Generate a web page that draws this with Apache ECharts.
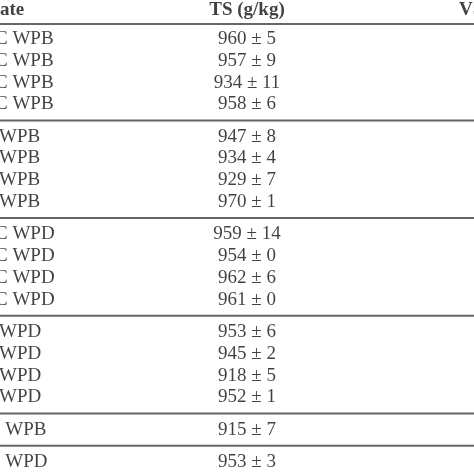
<!DOCTYPE html>
<html><head><meta charset="utf-8">
<script src="https://cdn.jsdelivr.net/npm/echarts@6/dist/echarts.min.js"></script>
<style>html,body{margin:0;padding:0;background:#fff}#c{width:474px;height:474px}</style>
</head><body><div id="c"></div>
<script>
const headers = ['ate', 'TS (g/kg)', 'VS'];
const rowLabels = ['C WPB','C WPB','C WPB','C WPB','WPB','WPB','WPB','WPB','C WPD','C WPD','C WPD','C WPD','WPD','WPD','WPD','WPD','1 WPB','1 WPD'];
const rowGroups = [0,0,0,0,1,1,1,1,2,2,2,2,3,3,3,3,4,5];
const tsMean = [960,957,934,958,947,934,929,970,959,954,962,961,953,945,918,952,915,953];
const tsSd =   [5,9,11,6,8,4,7,1,14,0,6,0,6,2,5,1,7,3];

const FONT = '"Liberation Serif", "DejaVu Serif", serif';
const rowY = i => 39 + i*21.8 + rowGroups[i]*10.5;
const labelOff = [-5,-1,-5,-1,-9,-9];
const lineYs = [24];
rowGroups.forEach((g,i)=>{ if(i<rowGroups.length-1 && rowGroups[i+1]!==g) lineYs.push(rowY(i)+16); });

const chart = echarts.init(document.getElementById('c'));
const labData = rowLabels.map((t,i)=>({value:[0, rowY(i)], name:t, label:{offset:[labelOff[rowGroups[i]],0]}}));
const valData = tsMean.map((m,i)=>({value:[247, rowY(i)], name: m + ' ± ' + tsSd[i]}));
const hdrData = [
  {value:[0,10], name:headers[0], label:{align:'left'}},
  {value:[247,10], name:headers[1], label:{align:'center'}},
  {value:[459,10], name:headers[2], label:{align:'left'}}
];
const lineSeries = lineYs.map(y=>({type:'line',data:[[0,y],[474,y]],symbol:'none',silent:true,
  lineStyle:{color:'#666',width:2},clip:false}));
const txt = {show:true,position:'inside',verticalAlign:'middle',formatter:p=>p.name,fontFamily:FONT,fontSize:19,color:'#111'};
chart.setOption({
  animation:false,
  grid:{left:0,right:0,top:0,bottom:0},
  xAxis:{type:'value',min:0,max:474,show:false},
  yAxis:{type:'value',min:0,max:474,inverse:true,show:false},
  series:[
    {type:'scatter',symbolSize:0,clip:false,data:labData,label:Object.assign({},txt,{align:'left'})},
    {type:'scatter',symbolSize:0,clip:false,data:valData,label:Object.assign({},txt,{align:'center'})},
    {type:'scatter',symbolSize:0,clip:false,data:hdrData,label:Object.assign({},txt,{fontWeight:'bold'})}
  ].concat(lineSeries)
});
</script></body></html>
